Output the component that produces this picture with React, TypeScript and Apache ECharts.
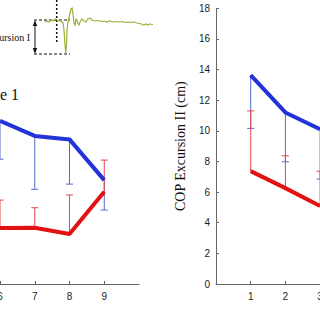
import React, { useEffect, useRef } from "react";
import * as echarts from "echarts";

// ---- data ----
const leftX = [6, 7, 8, 9];
const leftBlue = [10.65, 9.67, 9.44, 6.78];
const leftBlueLow = [8.15, 6.18, 6.52, 4.83];
const leftRed = [3.65, 3.67, 3.26, 6.02];
const leftRedHigh = [5.48, 4.98, 5.81, 8.09];

const rightX = [1, 2, 3];
const rightBlue = [13.63, 11.2, 10.1];
const rightBlueLow = [10.16, 7.98, 6.85];
const rightRed = [7.37, 6.26, 5.09];
const rightRedHigh = [11.3, 8.37, 7.37];

const leftTickValues = [6, 7, 8, 9];
const rightTickValues = [1, 2, 3];
const yTickValues = [0, 2, 4, 6, 8, 10, 12, 14, 16, 18];

const yAxisTitle = "COP Excursion II (cm)";
const insetLabel = "COP Excursion I";
const panelTitle = "e 1";

// decorative inset trace (illustration of a COP signal)
const insetTrace: number[][] = [
  [45, 22], [47, 21], [49, 22], [51, 20], [53, 21], [55, 19], [57, 20], [59, 21], [61, 21],
  [63, 23], [64, 30], [65, 45], [65.7, 53], [66.5, 45], [67, 30], [68, 22], [69.5, 15],
  [71, 9], [72, 8], [73, 14], [74, 23], [75, 25], [76, 19], [77, 20], [78, 24], [79, 25],
  [80, 22], [82, 19], [84, 21], [86, 22], [88, 19], [90, 18], [92, 20], [95, 21], [98, 20.5],
  [101, 21.5], [104, 21], [107, 22], [110, 21], [113, 22], [116, 21.5], [119, 22], [122, 21.5],
  [125, 22.5], [128, 22], [131, 22.5], [134, 22], [137, 23], [140, 23.5], [142, 24.5],
  [144, 25], [146, 24], [148, 25], [150, 24], [153, 24.5],
];

const BLUE = "#2233d8";
const RED = "#e21212";
const BLUE_ERR = "#5868cc";
const RED_ERR = "#e04848";

function pairs(xs: number[], ys: number[]) {
  return xs.map((x, i) => [x, ys[i]]);
}
function triples(xs: number[], m: number[], b: number[]) {
  return xs.map((x, i) => [x, m[i], b[i]]);
}

function errRender(color: string) {
  return (params: any, api: any) => {
    const x = api.value(0);
    const m = api.value(1);
    const b = api.value(2);
    const p1 = api.coord([x, m]);
    const p2 = api.coord([x, b]);
    return {
      type: "group",
      children: [
        {
          type: "line",
          shape: { x1: p1[0], y1: p1[1], x2: p2[0], y2: p2[1] },
          style: { stroke: color, lineWidth: 1 },
        },
        {
          type: "line",
          shape: { x1: p2[0] - 3.5, y1: p2[1], x2: p2[0] + 3.5, y2: p2[1] },
          style: { stroke: color, lineWidth: 1 },
        },
      ],
    };
  };
}

export default function App() {
  const ref = useRef<HTMLDivElement>(null);
  useEffect(() => {
    if (!ref.current) return;
    const chart = echarts.init(ref.current, null, { renderer: "svg" });
    const axisLabelStyle = {
      fontFamily: "Liberation Sans, Arial, sans-serif",
      fontSize: 10,
      color: "#222",
    };
    const xAxisCommon = (gridIndex: number, min: number, max: number, ticks: number[]) => ({
      type: "value",
      gridIndex,
      min,
      max,
      interval: 1,
      axisLine: { show: true, onZero: false, lineStyle: { color: "#666", width: 1 } },
      axisTick: { show: true, inside: true, length: 3, customValues: ticks, lineStyle: { color: "#666" } },
      axisLabel: { ...axisLabelStyle, margin: 7, customValues: ticks },
      splitLine: { show: false },
    });
    chart.setOption({
      animation: false,
      backgroundColor: "#fff",
      grid: [
        { left: 0, top: 8.3, width: 139, height: 275.7, containLabel: false, outerBoundsMode: "none" },
        { left: 216, top: 8.3, width: 347, height: 275.7, containLabel: false, outerBoundsMode: "none" },
      ],
      xAxis: [xAxisCommon(0, 6, 10, leftTickValues), xAxisCommon(1, 0, 10, rightTickValues)],
      yAxis: [
        { type: "value", gridIndex: 0, min: 0, max: 18, interval: 2, show: false, splitLine: { show: false } },
        {
          type: "value",
          gridIndex: 1,
          min: 0,
          max: 18,
          interval: 2,
          axisLine: { show: true, lineStyle: { color: "#666", width: 1 } },
          axisTick: { show: true, inside: true, length: 3, customValues: yTickValues, lineStyle: { color: "#666" } },
          axisLabel: { ...axisLabelStyle, margin: 6, customValues: yTickValues },
          splitLine: { show: false },
          name: yAxisTitle,
          nameLocation: "middle",
          nameRotate: 90,
          nameGap: 29,
          nameTextStyle: { fontFamily: "Liberation Serif, Times New Roman, serif", fontSize: 14, color: "#111" },
        },
      ],
      series: [
        { type: "custom", xAxisIndex: 0, yAxisIndex: 0, renderItem: errRender(BLUE_ERR), data: triples(leftX, leftBlue, leftBlueLow), z: 1 },
        { type: "custom", xAxisIndex: 0, yAxisIndex: 0, renderItem: errRender(RED_ERR), data: triples(leftX, leftRed, leftRedHigh), z: 1 },
        { type: "custom", xAxisIndex: 1, yAxisIndex: 1, renderItem: errRender(BLUE_ERR), data: triples(rightX, rightBlue, rightBlueLow), z: 1 },
        { type: "custom", xAxisIndex: 1, yAxisIndex: 1, renderItem: errRender(RED_ERR), data: triples(rightX, rightRed, rightRedHigh), z: 1 },
        { type: "line", xAxisIndex: 0, yAxisIndex: 0, data: pairs(leftX, leftBlue), showSymbol: false, lineStyle: { color: BLUE, width: 4 }, z: 3 },
        { type: "line", xAxisIndex: 0, yAxisIndex: 0, data: pairs(leftX, leftRed), showSymbol: false, lineStyle: { color: RED, width: 4 }, z: 3 },
        { type: "line", xAxisIndex: 1, yAxisIndex: 1, data: pairs(rightX, rightBlue), showSymbol: false, lineStyle: { color: BLUE, width: 4 }, z: 3 },
        { type: "line", xAxisIndex: 1, yAxisIndex: 1, data: pairs(rightX, rightRed), showSymbol: false, lineStyle: { color: RED, width: 4 }, z: 3 },
      ],
      graphic: [
        // inset illustration
        { type: "polyline", shape: { points: insetTrace }, style: { stroke: "#9fae3a", lineWidth: 1.2, fill: null }, z: 10 },
        { type: "line", shape: { x1: 34, y1: 20, x2: 70, y2: 20 }, style: { stroke: "#111", lineWidth: 1, lineDash: [3, 2] }, z: 9 },
        { type: "line", shape: { x1: 34, y1: 54, x2: 70, y2: 54 }, style: { stroke: "#111", lineWidth: 1, lineDash: [3, 2] }, z: 9 },
        { type: "line", shape: { x1: 56.7, y1: 0, x2: 56.7, y2: 43 }, style: { stroke: "#111", lineWidth: 1.5, lineDash: [2, 2] }, z: 9 },
        { type: "line", shape: { x1: 35, y1: 22, x2: 35, y2: 52 }, style: { stroke: "#111", lineWidth: 1 }, z: 9 },
        { type: "polygon", shape: { points: [[35, 20], [32.8, 26], [37.2, 26]] }, style: { fill: "#111" }, z: 9 },
        { type: "polygon", shape: { points: [[35, 54], [32.8, 48], [37.2, 48]] }, style: { fill: "#111" }, z: 9 },
        {
          type: "text",
          x: 30,
          y: 37,
          style: {
            text: insetLabel,
            fontFamily: "Liberation Serif, Times New Roman, serif",
            fontSize: 10,
            fill: "#111",
            align: "right",
            verticalAlign: "middle",
          },
          z: 10,
        },
        {
          type: "text",
          x: 0,
          y: 94,
          style: {
            text: panelTitle,
            fontFamily: "Liberation Serif, Times New Roman, serif",
            fontSize: 16,
            fill: "#111",
            align: "left",
            verticalAlign: "middle",
          },
          z: 10,
        },
      ],
    });
    return () => chart.dispose();
  }, []);
  return (
    <div
      ref={ref}
      style={{ position: "fixed", left: 0, top: 0, width: 320, height: 320, background: "#fff" }}
    />
  );
}
